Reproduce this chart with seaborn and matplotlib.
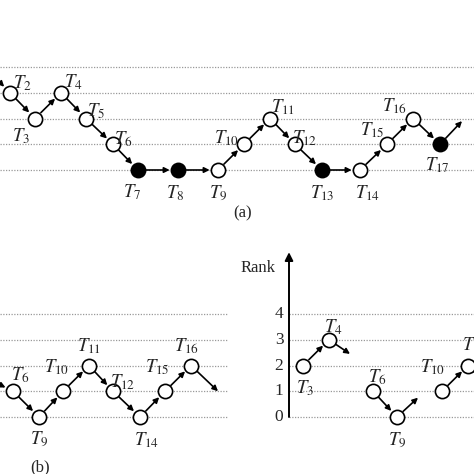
import matplotlib
matplotlib.use('Agg')
import matplotlib.pyplot as plt
import pandas as pd
import seaborn as sns

sns.set_style('white')
plt.rcParams['mathtext.fontset'] = 'stix'
plt.rcParams['font.family'] = ['Liberation Serif', 'DejaVu Serif']

# Panel (a): task index, horizontal position, rank, filled
a_tasks = [2, 3, 4, 5, 6, 7, 8, 9, 10, 11, 12, 13, 14, 15, 16, 17]
a_pos = [10, 35, 61, 86, 113, 138, 178, 218, 244, 270, 295, 322, 360, 387, 413, 440]
a_rank = [3, 2, 3, 2, 1, 0, 0, 0, 1, 2, 1, 0, 0, 1, 2, 1]
a_filled = [0, 0, 0, 0, 0, 1, 1, 0, 0, 0, 0, 1, 0, 0, 0, 1]
a_lab_off = [(12, -10), (-14, 18), (12, -11), (10, -7), (10, -5), (-6, 22), (-3, 23), (0, 23),
             (-17, -6), (13, -11), (10, -6), (0, 23), (8, 23), (-15, -14), (-18, -12), (-3, 21)]

# Panel (b)
b_tasks = [6, 9, 10, 11, 12, 14, 15, 16]
b_pos = [13, 39, 63, 89, 113, 140, 165, 191]
b_rank = [1, 0, 1, 2, 1, 0, 1, 2]
b_lab_off = [(7, -16), (0, 22), (-6, -24), (0, -19), (10, -9), (7, 23), (-8, -24), (-4, -19)]

# Panel (c)
c_tasks = [3, 4, 6, 9, 10, 11]
c_pos = [303, 329, 373, 397, 442, 468]
c_rank = [2, 3, 1, 0, 1, 2]
c_groups = [0, 0, 1, 1, 2, 2]
c_lab_off = [(2, 23), (4, -13), (4, -14), (0, 23), (-9, -24), (6, -20)]
c_tail = {0: (350, 2.45), 1: (418, 0.75), 2: (480, 1.7)}

PX = 25.75  # pixels per rank step


def make_ax(fig, top0_px, x0=0, x1=474):
    # axis with rank 0 at pixel row top0_px (from top of image)
    bottom = 1 - (top0_px + 0.5 * PX) / 474
    ax = fig.add_axes([x0 / 474, bottom, (x1 - x0) / 474, 5 * PX / 474])
    ax.set_xlim(x0, x1)
    ax.set_ylim(-0.5, 4.5)
    ax.axis('off')
    return ax


def arrow(ax, p0, p1, sA=6, sB=6):
    ax.annotate('', xy=p1, xytext=p0,
                arrowprops=dict(arrowstyle='-|>', color='black', lw=1.2,
                                shrinkA=sA, shrinkB=sB, mutation_scale=8),
                annotation_clip=False, zorder=2)


def grid(ax, x0, x1):
    for r in range(5):
        ax.plot([x0, x1], [r, r], ls=(0, (1, 1.2)), color='#999999', lw=0.9, zorder=0)


def nodes(ax, pos, rank, filled):
    df = pd.DataFrame({'x': pos, 'y': rank, 'f': filled})
    for f, fc in [(0, 'white'), (1, 'black')]:
        sub = df[df.f == f]
        sns.scatterplot(data=sub, x='x', y='y', ax=ax, s=105, color=fc,
                        edgecolor='black', linewidth=1.2, zorder=3, clip_on=False)


def labels(ax, tasks, pos, rank, offs):
    for t, x, y, (dx, dy) in zip(tasks, pos, rank, offs):
        ax.annotate(r'$T_{%d}$' % t, (x, y), xytext=(dx * 0.72, -dy * 0.72),
                    textcoords='offset points', ha='center', va='center',
                    fontsize=13.5, annotation_clip=False)


fig = plt.figure(figsize=(4.74, 4.74), dpi=100)

# (a)
ax = make_ax(fig, 170)
grid(ax, 0, 474)
arrow(ax, (-5, 3.6), (a_pos[0], a_rank[0]), sA=0)
for i in range(len(a_pos) - 1):
    arrow(ax, (a_pos[i], a_rank[i]), (a_pos[i + 1], a_rank[i + 1]))
arrow(ax, (a_pos[-1], a_rank[-1]), (462, 1.9), sB=0)
nodes(ax, a_pos, a_rank, a_filled)
labels(ax, a_tasks, a_pos, a_rank, a_lab_off)
ax.text(243, -1.67, '(a)', ha='center', va='center', fontsize=12)

# (b)
ax = make_ax(fig, 417, 0, 228)
grid(ax, 0, 228)
arrow(ax, (-5, 1.35), (b_pos[0], b_rank[0]), sA=0)
for i in range(len(b_pos) - 1):
    arrow(ax, (b_pos[i], b_rank[i]), (b_pos[i + 1], b_rank[i + 1]))
arrow(ax, (b_pos[-1], b_rank[-1]), (218, 1), sB=0)
nodes(ax, b_pos, b_rank, [0] * len(b_pos))
labels(ax, b_tasks, b_pos, b_rank, b_lab_off)
ax.text(40, -1.94, '(b)', ha='center', va='center', fontsize=12)

# (c) with rank axis
ax = make_ax(fig, 417, 289, 474)
grid(ax, 289, 474)
ax.annotate('', xy=(289, 6.4), xytext=(289, 0),
            arrowprops=dict(arrowstyle='-|>', color='black', lw=1.4, mutation_scale=12,
                            shrinkA=0, shrinkB=0), annotation_clip=False)
for r in range(5):
    ax.text(279, r, str(r), ha='center', va='center', fontsize=12.5)
ax.text(258, 5.8, 'Rank', ha='center', va='center', fontsize=12)
for g in sorted(set(c_groups)):
    idx = [i for i, gg in enumerate(c_groups) if gg == g]
    for i, j in zip(idx[:-1], idx[1:]):
        arrow(ax, (c_pos[i], c_rank[i]), (c_pos[j], c_rank[j]))
    arrow(ax, (c_pos[idx[-1]], c_rank[idx[-1]]), c_tail[g], sB=0)
nodes(ax, c_pos, c_rank, [0] * len(c_pos))
labels(ax, c_tasks, c_pos, c_rank, c_lab_off)

fig.savefig('out.png', dpi=100)
